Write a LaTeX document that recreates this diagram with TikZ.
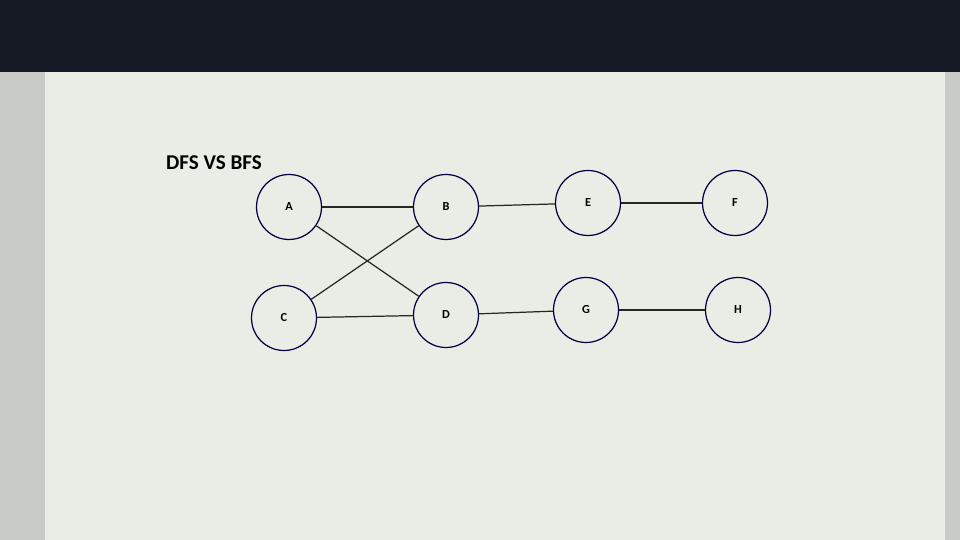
\documentclass[tikz,border=0pt]{standalone}
\usepackage{fontspec}
\setmainfont{Carlito}
\begin{document}
\begin{tikzpicture}[x=0.02cm,y=-0.02cm,
  vtx/.style={circle,draw=black!75!blue,line width=0.7pt,minimum size=1.3cm,inner sep=0pt,font=\bfseries\scriptsize},
  edge/.style={draw=black!85,line width=0.7pt}]
\definecolor{band}{RGB}{22,26,36}
\definecolor{page}{RGB}{234,236,230}
\definecolor{side}{RGB}{200,203,198}
\fill[side] (0,0) rectangle (960,540);
\fill[page] (45,68) rectangle (945,540);
\fill[band] (0,0) rectangle (960,72);
\useasboundingbox (0,0) rectangle (960,540);
\node[font=\bfseries\large,anchor=west] (t) at (160,163) {DFS VS BFS};
\node[vtx] (A) at (289,207) {A};
\node[vtx] (B) at (446,207) {B};
\node[vtx] (E) at (588,203) {E};
\node[vtx] (F) at (735,203) {F};
\node[vtx] (C) at (284,318) {C};
\node[vtx] (D) at (446,315) {D};
\node[vtx] (G) at (586,310) {G};
\node[vtx] (H) at (738,310) {H};
\path[edge] (A) -- (B);
\path[edge] (A) -- (D);
\path[edge] (C) -- (B);
\path[edge] (C) -- (D);
\path[edge] (B) -- (E);
\path[edge] (E) -- (F);
\path[edge] (D) -- (G);
\path[edge] (G) -- (H);
\end{tikzpicture}
\end{document}
